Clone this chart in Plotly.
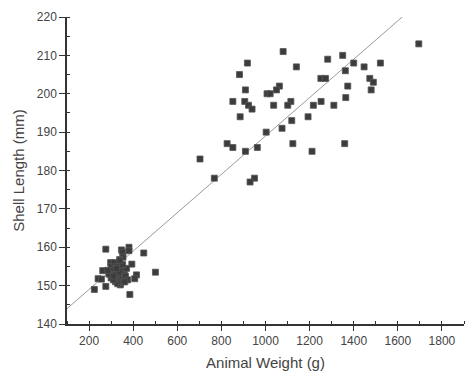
import plotly.graph_objects as go

# Animal weight (g) and shell length (mm)
weight = [1695, 1080, 1350, 918, 1140, 1282, 1400, 1521, 1447, 1362, 882, 1473, 1489,
          1251, 1272, 1373, 1479, 909, 1063, 1050, 1007, 1021, 1364, 852, 906, 1115,
          1252, 923, 939, 1037, 1101, 1217, 1310, 885, 1119, 1193, 1075, 1003, 826,
          852, 963, 909, 1124, 1359, 1211, 703, 768, 950, 930,
          276, 347, 381, 381, 352, 448, 354, 339, 298, 394, 262, 501, 415, 407, 241,
          256, 276, 224, 385, 342,
          300, 310, 320, 330, 340, 350, 360, 320, 330, 345, 355, 365, 300, 310, 290,
          285, 315, 325, 335, 345, 370, 375, 335, 325, 312, 352, 362, 340]
length = [213, 211, 210, 208, 207, 209, 208, 208, 207, 206, 205, 204, 203,
          204, 204, 202, 201, 201, 202, 201, 200, 200, 199, 198, 198, 198,
          198, 197, 196, 197, 197, 197, 197, 194, 193, 194, 191, 190, 187,
          186, 186, 185, 187, 187, 185, 183, 178, 178, 177,
          159.5, 159.3, 160, 159.1, 158.7, 158.5, 157.4, 156.8, 156, 155.6, 153.9, 153.5, 152.8, 151.8, 151.8,
          151.7, 149.8, 149, 147.7, 150.2,
          155, 154, 153, 152, 153, 152, 153, 151, 150.5, 151, 151, 152.5, 152, 151.5, 153,
          154, 156, 155, 155, 154, 154.5, 151.5, 153.5, 154.5, 152.5, 155.5, 151, 156.5]

# Regression line: length = intercept + slope * weight
fit_x = [100, 1620]
intercept = 139.0
slope = 0.05

x_ticks = [200, 400, 600, 800, 1000, 1200, 1400, 1600, 1800]
y_ticks = [140, 150, 160, 170, 180, 190, 200, 210, 220]

fig = go.Figure()
fig.add_trace(go.Scatter(
    x=fit_x, y=[intercept + slope * v for v in fit_x], mode="lines",
    line=dict(color="#9a9a9a", width=1), hoverinfo="skip", showlegend=False))
fig.add_trace(go.Scatter(
    x=weight, y=length, mode="markers",
    marker=dict(symbol="square", size=6, color="#3c3c3c",
                line=dict(color="#555555", width=0.8)),
    showlegend=False))

axis_font = dict(family="Liberation Sans, Arial, sans-serif", size=12, color="#444444")
fig.update_layout(
    width=474, height=381,
    margin=dict(l=67, r=10, t=14, b=57),
    paper_bgcolor="white", plot_bgcolor="white",
    font=dict(family="Liberation Sans, Arial, sans-serif", color="#444444"),
    xaxis=dict(
        range=[100, 1900], tickvals=x_ticks, showgrid=False, zeroline=False,
        showline=True, linecolor="#333333", linewidth=1.5,
        ticks="outside", ticklen=5, tickwidth=1.2, tickcolor="#333333",
        minor=dict(dtick=100, ticks="inside", ticklen=3, tickcolor="#333333", tickwidth=1, showgrid=False),
        tickfont=axis_font,
        title=dict(text="Animal Weight (g)", font=dict(size=15, color="#444444"), standoff=10),
    ),
    yaxis=dict(
        range=[140, 220], tickvals=y_ticks, showgrid=False, zeroline=False,
        showline=True, linecolor="#333333", linewidth=1.5,
        ticks="outside", ticklen=6, tickwidth=1.2, tickcolor="#333333",
        minor=dict(dtick=5, ticks="inside", ticklen=3, tickcolor="#333333", tickwidth=1, showgrid=False),
        tickfont=axis_font,
        title=dict(text="Shell Length (mm)", font=dict(size=15, color="#444444"), standoff=9),
    ),
)
fig.write_html("out.html", post_script="document.body.style.margin='0';",
               config={"displayModeBar": False})
